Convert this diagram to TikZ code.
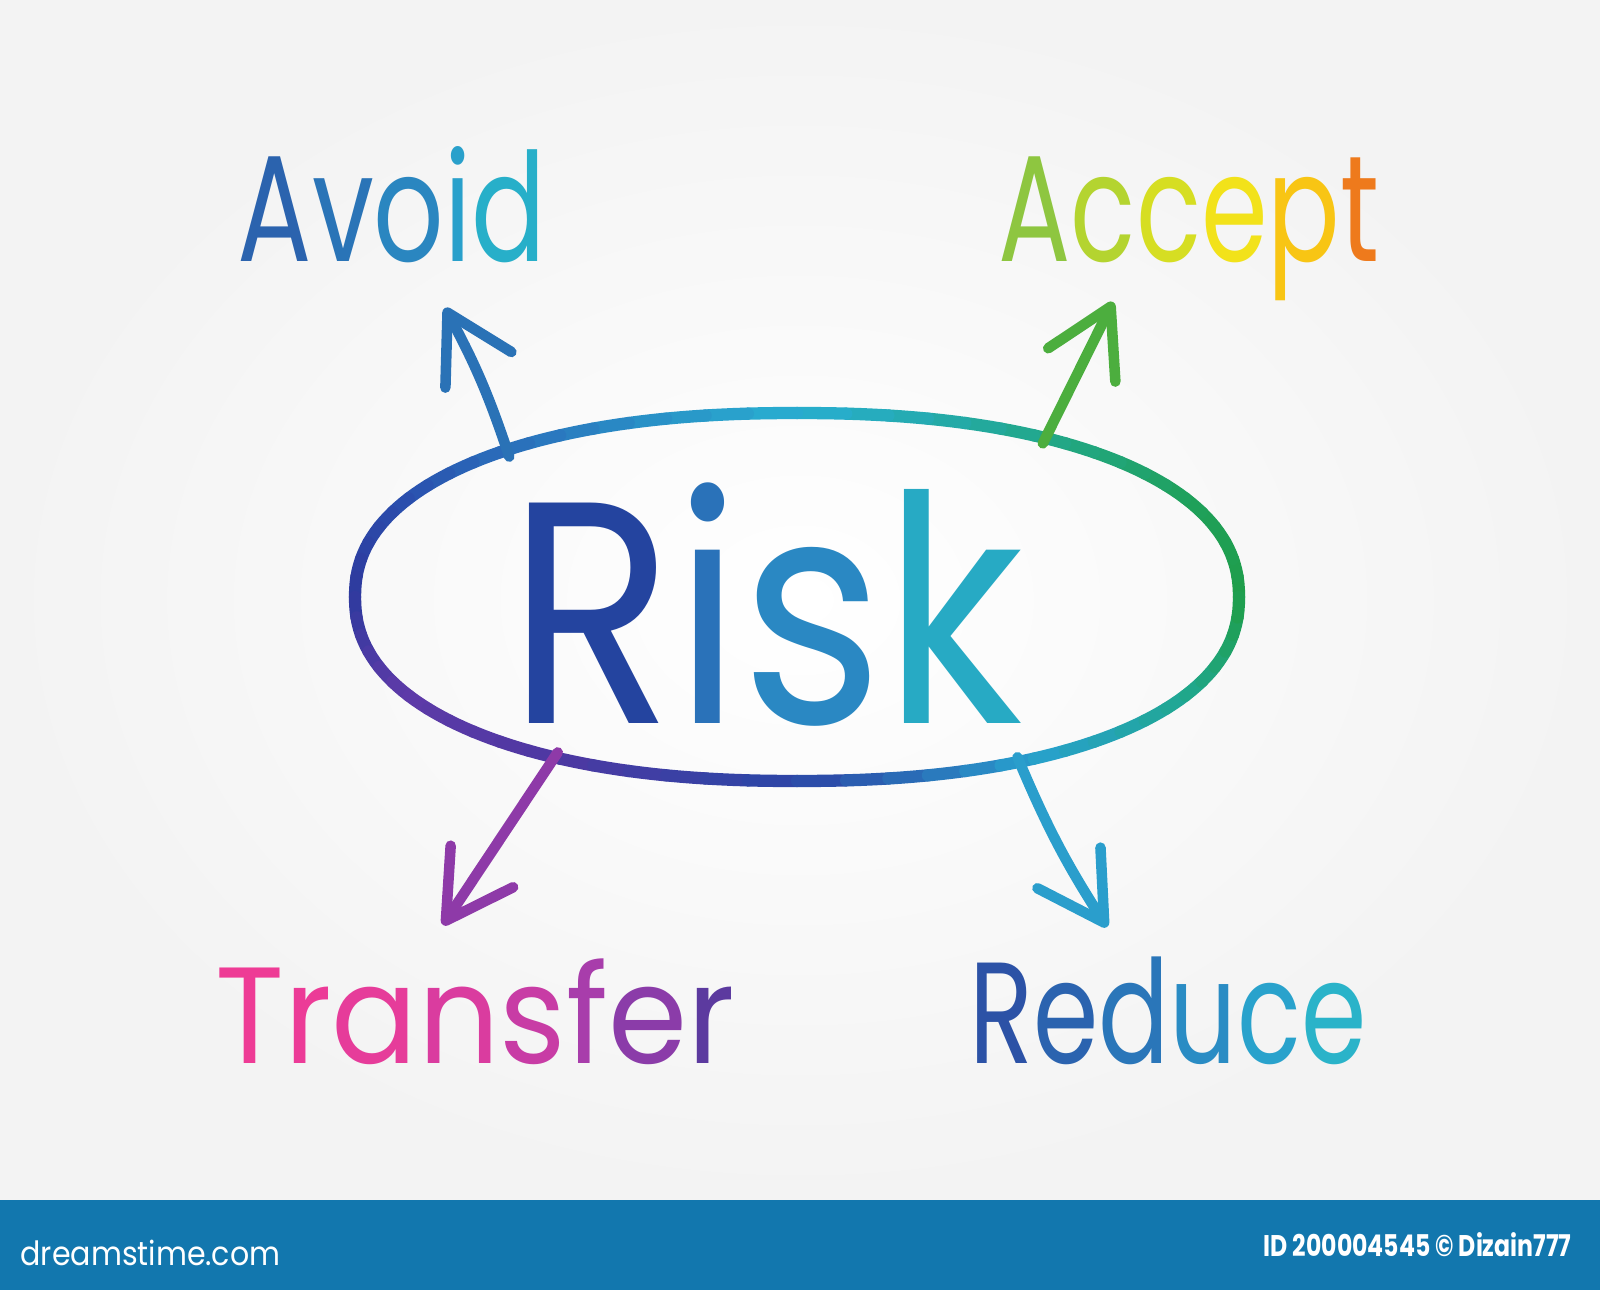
\documentclass[tikz,border=0pt]{standalone}
\usepackage{fontspec}
\setmainfont{Poppins}
\usepackage{tikz}
\usetikzlibrary{arrows.meta,shapes.geometric}

\definecolor{bggray}{HTML}{F3F3F3}
\definecolor{barblue}{HTML}{1277AE}
% ring colours, every 30 degrees
\definecolor{rg0}{HTML}{1F9E4A}
\definecolor{rg1}{HTML}{1FA05A}
\definecolor{rg2}{HTML}{22A88A}
\definecolor{rg3}{HTML}{28AED0}
\definecolor{rg4}{HTML}{2A7CC0}
\definecolor{rg5}{HTML}{2A50AE}
\definecolor{rg6}{HTML}{2E3A9E}
\definecolor{rg7}{HTML}{5E3AA8}
\definecolor{rg8}{HTML}{4E38A2}
\definecolor{rg9}{HTML}{2C46A6}
\definecolor{rg10}{HTML}{28A0CE}
\definecolor{rg11}{HTML}{20A890}
% arrows
\definecolor{avarrow}{HTML}{2A72B6}
\definecolor{acarrow}{HTML}{4CAE3E}
\definecolor{trarrow}{HTML}{8E3AA8}
\definecolor{rdarrow}{HTML}{2A9ECC}

\tikzset{
  hand/.style={line width=3pt, line cap=round, line join=round,
    -{Straight Barb[length=6.5mm,width=7.5mm,round]}},
  ring/.style={line width=3.5pt, line cap=round},
  word/.style={anchor=base, inner sep=0pt},
}

\begin{document}
\begin{tikzpicture}
  \useasboundingbox (0,0) rectangle (16,12.9);
  \shade[inner color=white, outer color=bggray] (0,0.9) rectangle (16,12.9);
  \fill[barblue] (0,0) rectangle (16,0.9);
  \node[anchor=west, inner sep=0pt, text=white, xscale=0.9, font=\fontsize{9.5}{11}\selectfont] (site) at (0.2,0.37) {dreamstime.com};
  \node[anchor=east, inner sep=0pt, text=white, xscale=0.79, font=\bfseries\fontsize{8.5}{10}\selectfont] (imgid) at (15.72,0.45) {ID 200004545 © Dizain777};

  % the oval
  \node[ellipse, minimum width=8.84cm, minimum height=3.68cm, inner sep=0pt] (risk) at (7.97,6.93) {};
  \foreach \a/\ca/\cb in {0/rg0/rg1,30/rg1/rg2,60/rg2/rg3,90/rg3/rg4,120/rg4/rg5,150/rg5/rg6,180/rg6/rg7,210/rg7/rg8,240/rg8/rg9,270/rg9/rg10,300/rg10/rg11,330/rg11/rg0}
    \foreach \s in {0,...,5}{
      \pgfmathsetmacro\segA{\a+5*\s}
      \pgfmathsetmacro\segB{\segA+5}
      \pgfmathtruncatemacro\pc{(\s+0.5)*100/6}
      \draw[ring, draw=\cb!\pc!\ca] plot[domain=\segA:\segB, samples=4]
        ({7.97+4.42*cos(\x)*(abs(cos(\x))+0.00001)^(-0.1)}, {6.93+1.84*sin(\x)*(abs(sin(\x))+0.00001)^(-0.1)});
    }
  \node[word, font=\fontsize{90}{90}\selectfont, xscale=0.86] (risklabel) at (7.66,5.67)
    {{\color[HTML]{24449F}R}{\color[HTML]{2A72B9}i}{\color[HTML]{2A88C3}s}{\color[HTML]{27AAC4}k}};

  % the four answers
  \node[word, font=\fontsize{43}{43}\selectfont, xscale=0.73] (avoid) at (3.92,10.28)
    {{\color[HTML]{2B63AE}A}{\color[HTML]{2A74B7}v}{\color[HTML]{2A86C0}o}{\color[HTML]{29A0CB}i}{\color[HTML]{27AFC9}d}};
  \node[word, font=\fontsize{43}{43}\selectfont, xscale=0.71] (accept) at (11.89,10.28)
    {{\color[HTML]{8EC640}A}{\color[HTML]{B4D430}c}{\color[HTML]{D6DE22}c}{\color[HTML]{F2E21A}e}{\color[HTML]{F8C514}p}{\color[HTML]{EE7A1C}t}};
  \node[word, font=\fontsize{39}{39}\selectfont, xscale=0.93] (transfer) at (4.75,2.27)
    {{\color[HTML]{EE3B95}T}{\color[HTML]{EC3B97}r}{\color[HTML]{E63C9A}a}{\color[HTML]{DA3C9F}n}{\color[HTML]{C83CA5}s}{\color[HTML]{A83DAB}f}{\color[HTML]{8B3CA9}e}{\color[HTML]{5C3A9F}r}};
  \node[word, font=\fontsize{41}{41}\selectfont, xscale=0.73] (reduce) at (11.68,2.27)
    {{\color[HTML]{2C52A6}R}{\color[HTML]{2B63AF}e}{\color[HTML]{2A76B9}d}{\color[HTML]{2A8CC4}u}{\color[HTML]{29A2CC}c}{\color[HTML]{2AB3C9}e}};

  \coordinate (avoidtip) at (4.45,9.82);
  \coordinate (accepttip) at (11.13,9.88);
  \coordinate (transfertip) at (4.43,3.65);
  \coordinate (reducetip) at (11.07,3.63);
  \draw[hand, avarrow] (risk.154) to[bend right=5] (avoidtip);
  \draw[hand, acarrow] (risk.32) -- (accepttip);
  \draw[hand, trarrow] (risk.213) -- (transfertip);
  \draw[hand, rdarrow] (risk.324) to[bend right=5] (reducetip);
\end{tikzpicture}
\end{document}
